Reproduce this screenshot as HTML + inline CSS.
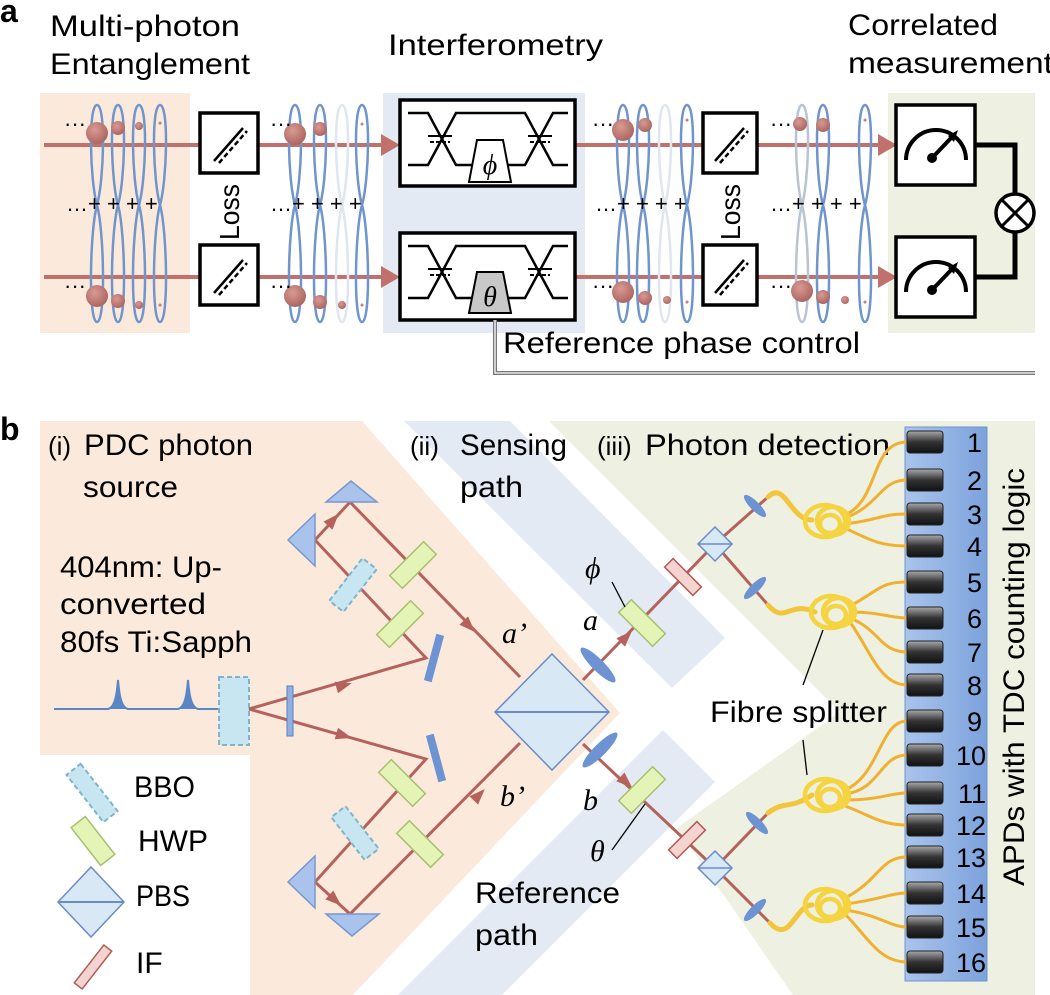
<!DOCTYPE html>
<html><head><meta charset="utf-8"><style>
html,body{margin:0;padding:0;background:#fff;}
svg{display:block;font-family:"Liberation Sans",sans-serif;}
</style></head><body>
<svg width="1050" height="995" viewBox="0 0 1050 995" xmlns="http://www.w3.org/2000/svg">
<defs>
<radialGradient id="ball" cx="0.4" cy="0.35" r="0.7"><stop offset="0" stop-color="#d99a94"/><stop offset="1" stop-color="#a9625d"/></radialGradient>
<linearGradient id="apd" x1="0" y1="0" x2="0" y2="1"><stop offset="0" stop-color="#aaa"/><stop offset="0.5" stop-color="#333"/><stop offset="1" stop-color="#111"/></linearGradient>
<linearGradient id="col" x1="0" y1="0" x2="1" y2="0"><stop offset="0" stop-color="#a9c4ec"/><stop offset="1" stop-color="#7ca2dc"/></linearGradient>
</defs>

<!-- ========== PANEL A ========== -->
<text x="0" y="22" font-size="32" font-weight="bold">a</text>
<g font-size="30" lengthAdjust="spacingAndGlyphs">
<text x="50" y="36" textLength="190" lengthAdjust="spacingAndGlyphs">Multi-photon</text>
<text x="50" y="74" textLength="200" lengthAdjust="spacingAndGlyphs">Entanglement</text>
<text x="388" y="55" textLength="215" lengthAdjust="spacingAndGlyphs">Interferometry</text>
<text x="848" y="35" textLength="150" lengthAdjust="spacingAndGlyphs">Correlated</text>
<text x="848" y="73" textLength="205" lengthAdjust="spacingAndGlyphs">measurement</text>
</g>

<rect x="40" y="93" width="150" height="240" fill="#fbeadc"/>
<rect x="383" y="93" width="202" height="240" fill="#e3eaf4"/>
<rect x="888" y="93" width="147" height="240" fill="#eef0e1"/>

<g stroke="#c0716b" stroke-width="4" fill="none">
<line x1="44" y1="145" x2="200" y2="145"/><line x1="44" y1="277" x2="200" y2="277"/>
<line x1="258" y1="145" x2="385" y2="145"/><line x1="258" y1="277" x2="385" y2="277"/>
<line x1="575" y1="145" x2="703" y2="145"/><line x1="575" y1="277" x2="703" y2="277"/>
<line x1="757" y1="145" x2="880" y2="145"/><line x1="757" y1="277" x2="880" y2="277"/>
</g>
<g fill="#c0716b">
<path d="M381,134 L400,145 L381,156 z"/><path d="M381,266 L400,277 L381,288 z"/>
<path d="M878,134 L897,145 L878,156 z"/><path d="M878,266 L897,277 L878,288 z"/>
</g>

<g fill="none" stroke-width="2.5">
<g stroke="#6f95cc">
<path d="M97,105 C106,105 104,180 97,205 C90,180 88,105 97,105 M97,205 C104,230 106,322 97,322 C88,322 90,230 97,205"/>
<path d="M118,105 C127,105 125,180 118,205 C111,180 109,105 118,105 M118,205 C125,230 127,322 118,322 C109,322 111,230 118,205"/>
<path d="M139,105 C148,105 146,180 139,205 C132,180 130,105 139,105 M139,205 C146,230 148,322 139,322 C130,322 132,230 139,205"/>
<path d="M160,105 C169,105 167,180 160,205 C153,180 151,105 160,105 M160,205 C167,230 169,322 160,322 C151,322 153,230 160,205"/>
<path d="M295,105 C304,105 302,180 295,205 C288,180 286,105 295,105 M295,205 C302,230 304,322 295,322 C286,322 288,230 295,205"/>
<path d="M320,105 C329,105 327,180 320,205 C313,180 311,105 320,105 M320,205 C327,230 329,322 320,322 C311,322 313,230 320,205"/>
<path d="M362,105 C371,105 369,180 362,205 C355,180 353,105 362,105 M362,205 C369,230 371,322 362,322 C353,322 355,230 362,205"/>
<path d="M623,105 C632,105 630,180 623,205 C616,180 614,105 623,105 M623,205 C630,230 632,322 623,322 C614,322 616,230 623,205"/>
<path d="M643,105 C652,105 650,180 643,205 C636,180 634,105 643,105 M643,205 C650,230 652,322 643,322 C634,322 636,230 643,205"/>
<path d="M687,105 C696,105 694,180 687,205 C680,180 678,105 687,105 M687,205 C694,230 696,322 687,322 C678,322 680,230 687,205"/>
<path d="M823,105 C832,105 830,180 823,205 C816,180 814,105 823,105 M823,205 C830,230 832,322 823,322 C814,322 816,230 823,205"/>
<path d="M865,105 C874,105 872,180 865,205 C858,180 856,105 865,105 M865,205 C872,230 874,322 865,322 C856,322 858,230 865,205"/>
</g>
<g stroke="#dfe6f0">
<path d="M342,105 C351,105 349,180 342,205 C335,180 333,105 342,105 M342,205 C349,230 351,322 342,322 C333,322 335,230 342,205"/>
<path d="M665,105 C674,105 672,180 665,205 C658,180 656,105 665,105 M665,205 C672,230 674,322 665,322 C656,322 658,230 665,205"/>
</g>
<g stroke="#b9c3d3">
<path d="M802,105 C811,105 809,180 802,205 C795,180 793,105 802,105 M802,205 C809,230 811,322 802,322 C793,322 795,230 802,205"/>
</g>
</g>
<g fill="url(#ball)">
<circle cx="97" cy="133" r="11"/><circle cx="118" cy="128" r="7"/><circle cx="139" cy="126" r="4"/><circle cx="160" cy="123" r="1.5"/>
<circle cx="97" cy="296" r="11"/><circle cx="118" cy="301" r="7"/><circle cx="139" cy="305" r="4"/><circle cx="160" cy="305" r="1.5"/>
<circle cx="295" cy="134" r="11"/><circle cx="320" cy="129" r="7"/><circle cx="362" cy="124" r="1.5"/>
<circle cx="295" cy="296" r="11"/><circle cx="320" cy="302" r="7"/><circle cx="342" cy="305" r="4"/><circle cx="362" cy="305" r="1.5"/>
<circle cx="623" cy="130" r="11"/><circle cx="645" cy="125" r="7"/><circle cx="687" cy="120" r="1.5"/>
<circle cx="623" cy="292" r="11"/><circle cx="645" cy="298" r="7"/><circle cx="667" cy="300" r="4"/><circle cx="687" cy="302" r="1.5"/>
<circle cx="800" cy="124" r="7"/><circle cx="823" cy="125" r="7"/><circle cx="865" cy="120" r="1.5"/>
<circle cx="802" cy="291" r="11"/><circle cx="823" cy="297" r="7"/><circle cx="845" cy="300" r="4"/><circle cx="865" cy="302" r="1.5"/>
</g>
<g font-size="22">
<text x="64" y="131">···</text><text x="64" y="293">···</text>
<text x="270" y="131">···</text><text x="270" y="293">···</text>
<text x="592" y="131">···</text><text x="592" y="293">···</text>
<text x="770" y="131">···</text><text x="770" y="293">···</text>
<text x="66" y="211">…+ + + +</text>
<text x="270" y="211">…+ + + +</text>
<text x="595" y="211">…+ + + +</text>
<text x="770" y="211">…+ + + +</text>
</g>

<g fill="#fff" stroke="#000" stroke-width="3.5">
<rect x="200" y="113" width="58" height="60"/><rect x="200" y="245" width="58" height="60"/>
<rect x="703" y="113" width="54" height="60"/><rect x="703" y="245" width="54" height="60"/>
</g>
<g stroke="#000" stroke-width="2.5">
<line x1="214" y1="161" x2="243" y2="128"/><line x1="219" y1="163" x2="247" y2="131" stroke-dasharray="5,3"/>
<line x1="214" y1="293" x2="243" y2="260"/><line x1="219" y1="295" x2="247" y2="263" stroke-dasharray="5,3"/>
<line x1="715" y1="161" x2="744" y2="128"/><line x1="720" y1="163" x2="748" y2="131" stroke-dasharray="5,3"/>
<line x1="715" y1="293" x2="744" y2="260"/><line x1="720" y1="295" x2="748" y2="263" stroke-dasharray="5,3"/>
</g>
<text font-size="28" transform="translate(239,240) rotate(-90)" textLength="56" lengthAdjust="spacingAndGlyphs">Loss</text>
<text font-size="28" transform="translate(740,240) rotate(-90)" textLength="56" lengthAdjust="spacingAndGlyphs">Loss</text>

<g fill="#fff" stroke="#000" stroke-width="3.5">
<rect x="400" y="100" width="175" height="86"/><rect x="400" y="233" width="175" height="87"/>
</g>
<g fill="none" stroke="#000" stroke-width="2.5">
<path d="M408,113 L428,113 L456,165 L525,165 L553,113 L568,113"/>
<path d="M408,165 L428,165 L456,113 L525,113 L553,165 L568,165"/>
<path d="M408,246 L428,246 L456,298 L525,298 L553,246 L568,246"/>
<path d="M408,298 L428,298 L456,246 L525,246 L553,298 L568,298"/>
</g>
<g stroke="#000" stroke-width="2">
<line x1="428" y1="136" x2="452" y2="136"/><line x1="430" y1="142" x2="450" y2="142" stroke-dasharray="4,2"/>
<line x1="528" y1="136" x2="552" y2="136"/><line x1="530" y1="142" x2="550" y2="142" stroke-dasharray="4,2"/>
<line x1="428" y1="269" x2="452" y2="269"/><line x1="430" y1="275" x2="450" y2="275" stroke-dasharray="4,2"/>
<line x1="528" y1="269" x2="552" y2="269"/><line x1="530" y1="275" x2="550" y2="275" stroke-dasharray="4,2"/>
</g>
<path d="M477,140 L503,140 L511,182 L469,182 z" fill="#fff" stroke="#000" stroke-width="2"/>
<path d="M477,272 L503,272 L511,313 L469,313 z" fill="#c8c8c8" stroke="#000" stroke-width="2"/>
<text x="490" y="174" font-size="28" font-style="italic" font-family="Liberation Serif,serif" text-anchor="middle">ϕ</text>
<text x="490" y="306" font-size="28" font-style="italic" font-family="Liberation Serif,serif" text-anchor="middle">θ</text>

<g fill="#fff" stroke="#000" stroke-width="3.5">
<rect x="896" y="105" width="79" height="80"/><rect x="896" y="237" width="79" height="80"/>
</g>
<g fill="none" stroke="#000" stroke-width="4">
<path d="M906,160 A30,30 0 0 1 966,160"/><path d="M906,292 A30,30 0 0 1 966,292"/>
<line x1="932" y1="158" x2="952" y2="137"/><line x1="932" y1="290" x2="952" y2="269"/>
<path d="M975,145 L1015,145 L1015,194 M975,277 L1015,277 L1015,232" stroke-width="5"/>
<circle cx="1015" cy="213" r="19" stroke-width="3.5" fill="#fff"/>
<path d="M1002,200 L1028,226 M1028,200 L1002,226" stroke-width="3"/>
</g>
<g fill="#000"><circle cx="932" cy="158" r="5"/><circle cx="932" cy="290" r="5"/>
<path d="M958,130 L948,136 L954,142 z"/><path d="M958,262 L948,268 L954,274 z"/></g>

<path d="M495,320 L495,373 L1035,373" fill="none" stroke="#777" stroke-width="4"/>
<path d="M495,320 L495,373 L1035,373" fill="none" stroke="#fff" stroke-width="1.3"/>
<text x="503" y="353" font-size="30" textLength="357" lengthAdjust="spacingAndGlyphs">Reference  phase control</text>

<!-- ========== PANEL B ========== -->
<polygon points="40,421 362,421 620,713 353,995 250,995 250,755 40,755" fill="#fbeadc"/>
<polygon points="404,421 510,421 725,638 672,688" fill="#e3eaf4"/>
<polygon points="663,730 715,782 502,995 398,995" fill="#e3eaf4"/>
<polygon points="549,421 1035,421 1035,995 793,995 677,828 840,712" fill="#eef0e1"/>

<text x="0" y="440" font-size="32" font-weight="bold">b</text>
<g font-size="30">
<text x="48" y="455" font-size="26">(i)</text>
<text x="84" y="455" textLength="169" lengthAdjust="spacingAndGlyphs">PDC photon</text>
<text x="83" y="497" textLength="95" lengthAdjust="spacingAndGlyphs">source</text>
<text x="60" y="577" textLength="162" lengthAdjust="spacingAndGlyphs">404nm: Up-</text>
<text x="60" y="614" textLength="146" lengthAdjust="spacingAndGlyphs">converted</text>
<text x="60" y="652" textLength="192" lengthAdjust="spacingAndGlyphs">80fs Ti:Sapph</text>
<text x="410" y="455" font-size="26">(ii)</text>
<text x="460" y="455" textLength="107" lengthAdjust="spacingAndGlyphs">Sensing</text>
<text x="460" y="497" textLength="63" lengthAdjust="spacingAndGlyphs">path</text>
<text x="597" y="455" font-size="26">(iii)</text>
<text x="645" y="455" textLength="245" lengthAdjust="spacingAndGlyphs">Photon detection</text>
<text x="475" y="903" textLength="145" lengthAdjust="spacingAndGlyphs">Reference</text>
<text x="475" y="945" textLength="63" lengthAdjust="spacingAndGlyphs">path</text>
<text x="710" y="722" textLength="177" lengthAdjust="spacingAndGlyphs">Fibre splitter</text>
</g>

<path d="M54,709 L108,709 C116,707 117,690 118,680 C119,690 120,707 128,709 L178,709 C186,707 187,690 188,680 C189,690 190,707 198,709 L219,709" fill="#5b86c6" stroke="#5b86c6" stroke-width="2"/>
<rect x="219" y="677" width="30" height="68" fill="#c8e6f2" stroke="#7fb5cc" stroke-width="2" stroke-dasharray="5,3"/>

<g stroke="#b5625c" stroke-width="3" fill="none">
<path d="M249,709 L426,658 L315,540 L350,502 L520,677"/>
<path d="M249,709 L426,759 L315,882 L350,914 L520,743"/>
<path d="M583,680 L715,544 L768,497"/>
<path d="M715,544 L768,605"/>
<path d="M583,744 L715,868 L768,813"/>
<path d="M715,868 L770,923"/>
</g>
<g fill="#b5625c">
<path d="M-9,-6 L7,0 L-9,6 z" transform="translate(345,685) rotate(-16)"/>
<path d="M-9,-6 L7,0 L-9,6 z" transform="translate(345,736) rotate(16)"/>
<path d="M-9,-6 L7,0 L-9,6 z" transform="translate(334,519) rotate(-48)"/>
<path d="M-9,-6 L7,0 L-9,6 z" transform="translate(336,901) rotate(42)"/>
<path d="M-9,-6 L7,0 L-9,6 z" transform="translate(470,627) rotate(46)"/>
<path d="M-9,-6 L7,0 L-9,6 z" transform="translate(480,794) rotate(-46)"/>
<path d="M-9,-6 L7,0 L-9,6 z" transform="translate(627,636) rotate(-46)"/>
<path d="M-9,-6 L7,0 L-9,6 z" transform="translate(627,783) rotate(43)"/>
</g>
<rect x="287" y="686" width="6" height="50" fill="#8fb0e0" stroke="#5b7fc0"/>
<g fill="#6d93d3">
<rect x="-4" y="-24" width="8" height="48" transform="translate(434,658) rotate(15)"/>
<rect x="-4" y="-24" width="8" height="48" transform="translate(436,758) rotate(-15)"/>
</g>
<g fill="#a9c3ec" stroke="#7898d0" stroke-width="1.5">
<path d="M315,514 L315,566 L288,540 z"/>
<path d="M315,856 L315,908 L288,882 z"/>
<path d="M326,502 L377,502 L351,481 z"/>
<path d="M326,914 L379,914 L352,936 z"/>
</g>
<g fill="#c8e6f2" stroke="#7fb5cc" stroke-width="2" stroke-dasharray="5,3">
<rect x="-27" y="-9" width="54" height="18" transform="translate(353,585) rotate(-52)"/>
<rect x="-27" y="-9" width="54" height="18" transform="translate(355,833) rotate(52)"/>
</g>
<g fill="#e4f3b6" stroke="#a8c070" stroke-width="1.5">
<rect x="-24" y="-9" width="48" height="18" transform="translate(400,624) rotate(-45)"/>
<rect x="-24" y="-9" width="48" height="18" transform="translate(413,565) rotate(-45)"/>
<rect x="-24" y="-9" width="48" height="18" transform="translate(402,783) rotate(45)"/>
<rect x="-24" y="-9" width="48" height="18" transform="translate(420,844) rotate(45)"/>
<rect x="-24" y="-9" width="48" height="18" transform="translate(642,623) rotate(45)"/>
<rect x="-24" y="-9" width="48" height="18" transform="translate(642,790) rotate(-45)"/>
</g>
<path d="M552,654 L609,712 L552,770 L495,712 z" fill="#d8e8f5" stroke="#6a8cc8" stroke-width="1.5"/>
<line x1="495" y1="712" x2="609" y2="712" stroke="#6a8cc8" stroke-width="2"/>
<g fill="#6d93d3">
<ellipse cx="598" cy="665" rx="24" ry="6" transform="rotate(45,598,665)"/>
<ellipse cx="600" cy="750" rx="24" ry="6" transform="rotate(-45,600,750)"/>
<ellipse cx="755" cy="506" rx="15" ry="4.5" transform="rotate(45,755,506)"/>
<ellipse cx="755" cy="588" rx="15" ry="4.5" transform="rotate(-45,755,588)"/>
<ellipse cx="757" cy="823" rx="15" ry="4.5" transform="rotate(45,757,823)"/>
<ellipse cx="755" cy="910" rx="15" ry="4.5" transform="rotate(-45,755,910)"/>
</g>
<g fill="#f4d3d0" stroke="#b05a55" stroke-width="1.5">
<rect x="-20" y="-6" width="40" height="12" transform="translate(683,577) rotate(45)"/>
<rect x="-20" y="-6" width="40" height="12" transform="translate(687,840) rotate(-45)"/>
</g>
<g fill="#d8e8f5" stroke="#6a8cc8" stroke-width="1.5">
<path d="M715,527 L732,544 L715,561 L698,544 z"/><line x1="698" y1="544" x2="732" y2="544"/>
<path d="M715,851 L732,868 L715,885 L698,868 z"/><line x1="698" y1="868" x2="732" y2="868"/>
</g>
<g font-family="Liberation Serif,serif" font-style="italic" font-size="30">
<text x="502" y="643">a’</text><text x="500" y="806">b’</text>
<text x="583" y="630">a</text><text x="583" y="810">b</text>
<text x="585" y="578">ϕ</text><text x="590" y="861">θ</text>
</g>
<g stroke="#000" stroke-width="1.3">
<line x1="612" y1="582" x2="625" y2="607"/><line x1="612" y1="850" x2="645" y2="804"/>
<line x1="803" y1="685" x2="823" y2="630"/><line x1="803" y1="740" x2="807" y2="775"/>
</g>

<rect x="905" y="427" width="82" height="554" fill="url(#col)" stroke="#6f93cf"/>
<g fill="none" stroke-linecap="round">
<g stroke="#f2c53d" stroke-width="5">
<path d="M768,497 C785,480 790,520 812,520"/>
<path d="M768,605 C785,625 790,600 815,612"/>
<path d="M768,813 C785,800 790,810 812,795"/>
<path d="M770,923 C790,945 795,905 812,905"/>
</g>
<g stroke="#f0b030" stroke-width="3">
<path d="M845,515 C880,500 870,442 907,442"/><path d="M845,518 C880,505 880,480 907,480"/>
<path d="M845,524 C880,520 880,514 907,514"/><path d="M845,528 C870,540 880,546 907,546"/>
<path d="M850,606 C880,590 880,582 907,582"/><path d="M850,612 C880,612 890,618 907,618"/>
<path d="M850,618 C880,630 880,652 907,652"/><path d="M850,622 C870,650 880,685 907,685"/>
<path d="M845,790 C880,775 880,721 907,721"/><path d="M845,794 C880,790 880,755 907,755"/>
<path d="M845,800 C880,800 890,793 907,793"/><path d="M845,806 C870,815 880,825 907,825"/>
<path d="M845,898 C880,880 880,857 907,857"/><path d="M845,904 C880,900 890,893 907,893"/>
<path d="M845,910 C880,915 890,927 907,927"/><path d="M845,914 C870,940 880,962 907,962"/>
</g>
<g stroke="#f5d442" stroke-width="4.5">
<ellipse cx="825" cy="521" rx="20" ry="16"/><ellipse cx="833" cy="521" rx="16" ry="14"/><ellipse cx="830" cy="524" rx="10" ry="9"/>
<ellipse cx="831" cy="612" rx="20" ry="16"/><ellipse cx="839" cy="612" rx="16" ry="14"/><ellipse cx="836" cy="615" rx="10" ry="9"/>
<ellipse cx="825" cy="795" rx="20" ry="16"/><ellipse cx="833" cy="795" rx="16" ry="14"/><ellipse cx="830" cy="798" rx="10" ry="9"/>
<ellipse cx="825" cy="905" rx="20" ry="16"/><ellipse cx="833" cy="905" rx="16" ry="14"/><ellipse cx="830" cy="908" rx="10" ry="9"/>
</g>
</g>
<g fill="url(#apd)" stroke="#222" stroke-width="1">
<rect x="907" y="431" width="36" height="22" rx="3"/><rect x="907" y="469" width="36" height="22" rx="3"/>
<rect x="907" y="503" width="36" height="22" rx="3"/><rect x="907" y="535" width="36" height="22" rx="3"/>
<rect x="907" y="571" width="36" height="22" rx="3"/><rect x="907" y="607" width="36" height="22" rx="3"/>
<rect x="907" y="641" width="36" height="22" rx="3"/><rect x="907" y="674" width="36" height="22" rx="3"/>
<rect x="907" y="710" width="36" height="22" rx="3"/><rect x="907" y="744" width="36" height="22" rx="3"/>
<rect x="907" y="782" width="36" height="22" rx="3"/><rect x="907" y="814" width="36" height="22" rx="3"/>
<rect x="907" y="846" width="36" height="22" rx="3"/><rect x="907" y="882" width="36" height="22" rx="3"/>
<rect x="907" y="916" width="36" height="22" rx="3"/><rect x="907" y="951" width="36" height="22" rx="3"/>
</g>
<g font-size="27" text-anchor="end">
<text x="982" y="452">1</text><text x="982" y="490">2</text><text x="982" y="524">3</text><text x="982" y="556">4</text>
<text x="982" y="592">5</text><text x="982" y="628">6</text><text x="982" y="662">7</text><text x="982" y="695">8</text>
<text x="982" y="731">9</text><text x="986" y="765">10</text><text x="986" y="803">11</text><text x="986" y="835">12</text>
<text x="986" y="867">13</text><text x="986" y="903">14</text><text x="986" y="937">15</text><text x="986" y="972">16</text>
</g>
<text font-size="30" transform="translate(1024,886) rotate(-90)" textLength="418" lengthAdjust="spacingAndGlyphs">APDs with TDC counting logic</text>

<rect x="-30" y="-9" width="60" height="18" transform="translate(92,793) rotate(52)" fill="#c8e6f2" stroke="#7fb5cc" stroke-width="2" stroke-dasharray="5,3"/>
<rect x="-24" y="-9" width="48" height="18" transform="translate(93,841) rotate(52)" fill="#e4f3b6" stroke="#a8c070" stroke-width="1.5"/>
<path d="M91,867 L124,902 L91,937 L58,902 z" fill="#d8e8f5" stroke="#6a8cc8" stroke-width="1.5"/>
<line x1="58" y1="902" x2="124" y2="902" stroke="#6a8cc8" stroke-width="2"/>
<rect x="-24" y="-5" width="48" height="10" transform="translate(93,967) rotate(-52)" fill="#f4d3d0" stroke="#b05a55" stroke-width="1.5"/>
<g font-size="30">
<text x="134" y="797" textLength="61" lengthAdjust="spacingAndGlyphs">BBO</text>
<text x="138" y="851" textLength="70" lengthAdjust="spacingAndGlyphs">HWP</text>
<text x="136" y="906" textLength="54" lengthAdjust="spacingAndGlyphs">PBS</text>
<text x="136" y="973">IF</text>
</g>
</svg>
</body></html>
